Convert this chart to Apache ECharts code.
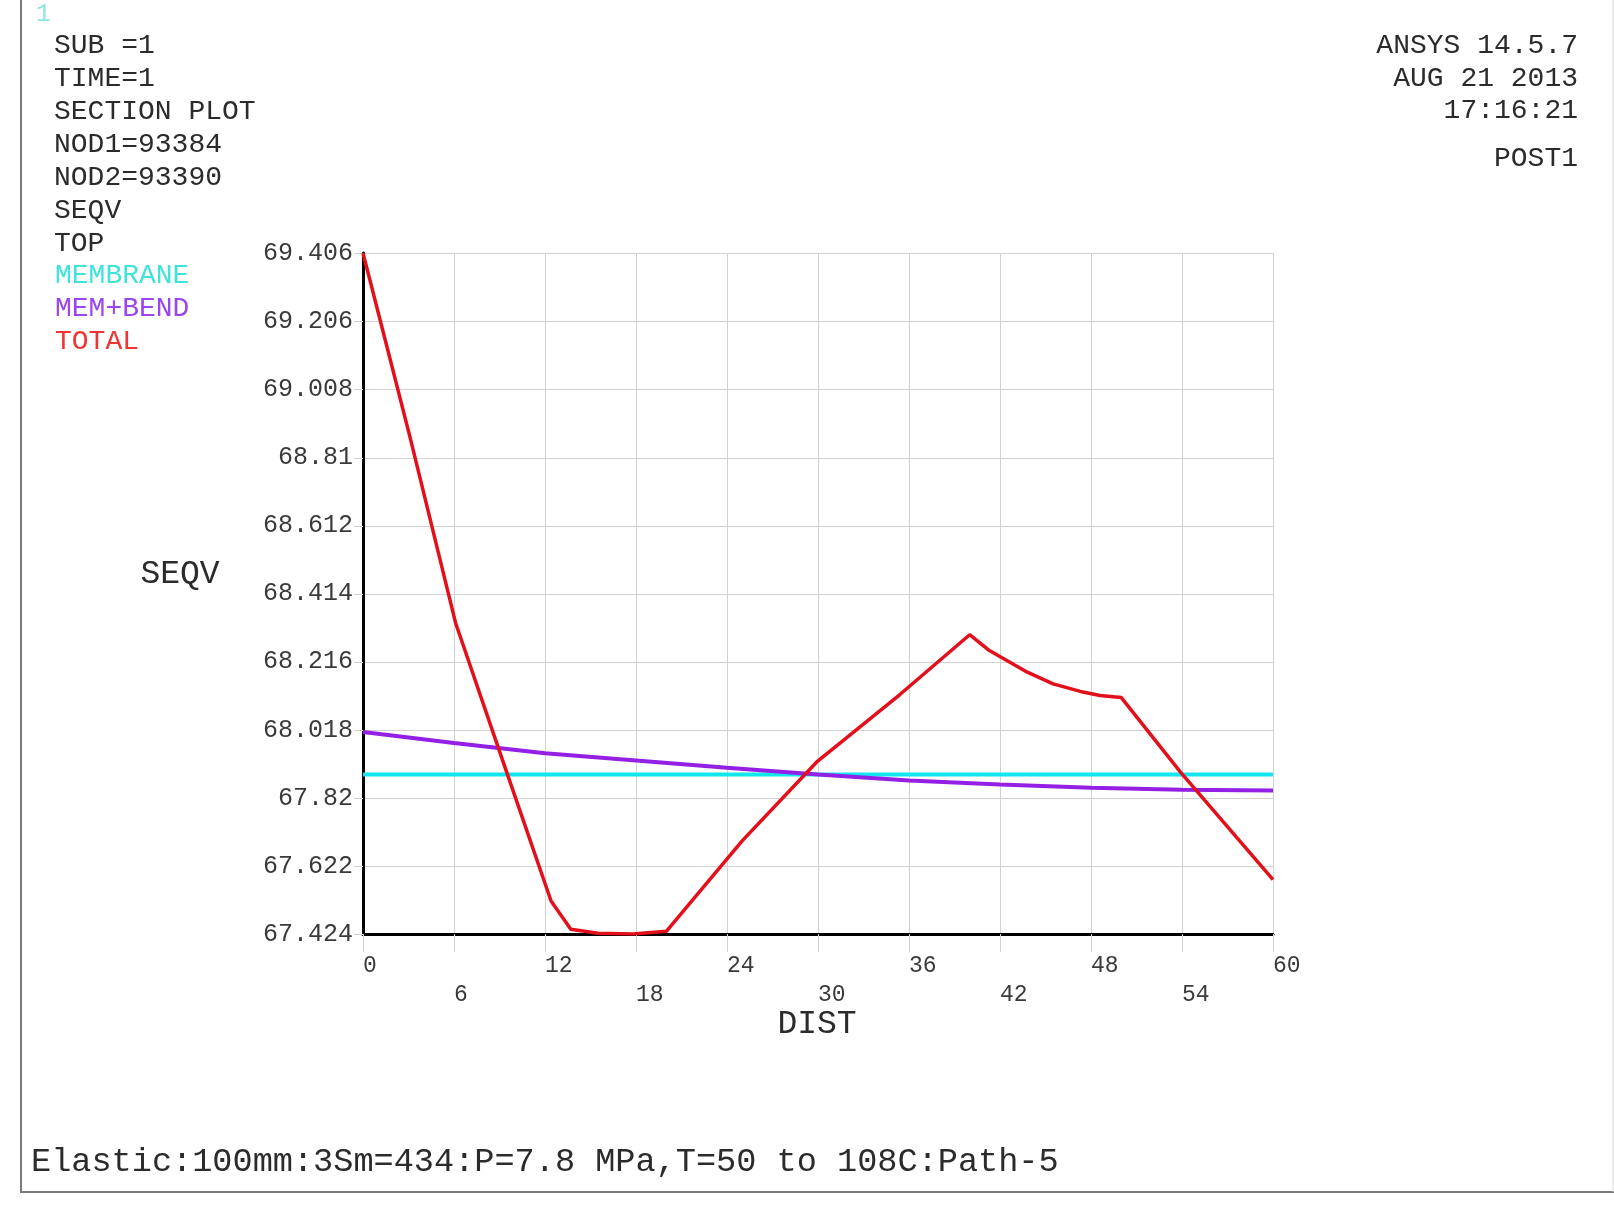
<!DOCTYPE html>
<html>
<head>
<meta charset="utf-8">
<title>SEQV section plot</title>
<script src="https://cdn.jsdelivr.net/npm/echarts@6/dist/echarts.min.js"></script>
<style>
  html, body { margin: 0; padding: 0; background: #fff; }
  #chart { width: 1614px; height: 1217px; }
</style>
</head>
<body>
<div id="chart"></div>
<script>
// path data
var distTicks = [0, 6, 12, 18, 24, 30, 36, 42, 48, 54, 60];
var seqvTicks = [67.424, 67.622, 67.82, 68.018, 68.216, 68.414, 68.612, 68.81, 69.008, 69.206, 69.406];

var membrane = [67.888, 67.888, 67.888, 67.888, 67.888, 67.888, 67.888, 67.888, 67.888, 67.888, 67.888];
var memBend = [68.012, 67.98, 67.95, 67.929, 67.908, 67.888, 67.871, 67.859, 67.85, 67.844, 67.842];

var totalDist = [0, 3.1, 6.1, 9.2, 12.4, 13.7, 15.5, 17.8, 20.0, 25.0, 29.9, 35.4, 40.0, 41.3, 43.8, 45.5, 47.3, 48.6, 50.0, 53.9, 60];
var totalSeqv = [69.406, 68.87, 68.33, 67.93, 67.52, 67.438, 67.426, 67.424, 67.432, 67.695, 67.924, 68.121, 68.295, 68.249, 68.186, 68.152, 68.13, 68.118, 68.112, 67.895, 67.582];

var infoLines = ['SUB =1', 'TIME=1', 'SECTION PLOT', 'NOD1=93384', 'NOD2=93390', 'SEQV', 'TOP'];
var stampLines = ['ANSYS 14.5.7', 'AUG 21 2013', '17:16:21'];

(function() {
  var mono = '"Liberation Mono", "Courier New", monospace';
  var ink = '#2b2b2b';
  var gridGray = '#d2d2d2';

  function pairs(xs, ys) {
    return xs.map(function(x, i) { return [x, ys[i]]; });
  }

  function txt(text, x, y, size, opts) {
    opts = opts || {};
    return {
      type: 'text', x: x, y: y, silent: true,
      style: {
        text: text, fill: opts.fill || ink,
        font: size + 'px ' + mono,
        textAlign: opts.align || 'left', textVerticalAlign: 'middle'
      }
    };
  }

  var graphics = [];
  infoLines.forEach(function(s, i) { graphics.push(txt(s, 54, 46 + i * 32.9, 28)); });
  stampLines.forEach(function(s, i) { graphics.push(txt(s, 1578, 46 + i * 32.5, 28, { align: 'right' })); });
  graphics.push(txt('POST1', 1578, 159, 28, { align: 'right' }));
  graphics.push(txt('1', 36, 14, 25, { fill: '#8fe3e3' }));
  graphics.push(txt('SEQV', 180, 574, 33, { align: 'center' }));
  graphics.push(txt('DIST', 817, 1024, 33, { align: 'center' }));
  graphics.push(txt('Elastic:100mm:3Sm=434:P=7.8 MPa,T=50 to 108C:Path-5', 31, 1162, 33.6));
  // window frame
  graphics.push({ type: 'polyline', silent: true,
    shape: { points: [[21, 0], [21, 1192], [1614, 1192]] },
    style: { stroke: '#7a7a7a', lineWidth: 2, fill: null } });
  graphics.push({ type: 'line', silent: true,
    shape: { x1: 1613, y1: 0, x2: 1613, y2: 1192 },
    style: { stroke: '#d8d8d8', lineWidth: 1 } });

  var chart = echarts.init(document.getElementById('chart'), null, { renderer: 'canvas' });
  chart.setOption({
    animation: false,
    backgroundColor: '#ffffff',
    textStyle: { fontFamily: mono },
    graphic: graphics,
    legend: {
      orient: 'vertical',
      left: 45,
      top: 254,
      itemWidth: 0,
      itemHeight: 10,
      itemGap: 0,
      icon: 'none',
      selectedMode: false,
      textStyle: { fontSize: 28, lineHeight: 33, fontFamily: mono },
      data: [
        { name: 'MEMBRANE', textStyle: { color: '#3fe3dc' } },
        { name: 'MEM+BEND', textStyle: { color: '#9a45ee' } },
        { name: 'TOTAL', textStyle: { color: '#ee3434' } }
      ]
    },
    grid: { left: 363, top: 253, width: 910, height: 681, outerBoundsMode: 'none' },
    xAxis: {
      type: 'value',
      min: 0,
      max: 60,
      interval: 6,
      axisLine: { lineStyle: { color: '#000', width: 3 } },
      axisTick: { show: true, length: 18, lineStyle: { color: gridGray } },
      splitLine: { show: true, lineStyle: { color: gridGray, width: 1 } },
      axisLabel: {
        color: '#3a3a3a', fontSize: 23, fontFamily: mono,
        lineHeight: 29, align: 'left', margin: 17,
        formatter: function(v) {
          var i = distTicks.indexOf(v);
          return i % 2 ? '\n' + v : String(v);
        }
      }
    },
    yAxis: {
      type: 'value',
      min: seqvTicks[0],
      max: seqvTicks[seqvTicks.length - 1],
      axisLine: { show: true, lineStyle: { color: '#000', width: 3 } },
      axisTick: { show: true, length: 9, customValues: seqvTicks, lineStyle: { color: gridGray } },
      splitLine: { show: true, lineStyle: { color: gridGray, width: 1 } },
      axisLabel: {
        color: '#3a3a3a', fontSize: 25, fontFamily: mono, margin: 10,
        customValues: seqvTicks,
        padding: [0, 0, 10, 0],
        formatter: function(v) { return String(+(+v).toFixed(3)); }
      }
    },
    series: [
      {
        name: 'MEMBRANE', type: 'line', symbol: 'none',
        lineStyle: { color: '#12e6ee', width: 4 },
        itemStyle: { color: '#12e6ee' },
        data: pairs(distTicks, membrane)
      },
      {
        name: 'MEM+BEND', type: 'line', symbol: 'none',
        lineStyle: { color: '#9420e6', width: 4 },
        itemStyle: { color: '#9420e6' },
        data: pairs(distTicks, memBend)
      },
      {
        name: 'TOTAL', type: 'line', symbol: 'none',
        lineStyle: { color: '#e3101c', width: 3.5 },
        itemStyle: { color: '#e3101c' },
        data: pairs(totalDist, totalSeqv)
      }
    ]
  });
  window.addEventListener('resize', function() { chart.resize(); });
})();
</script>
</body>
</html>
